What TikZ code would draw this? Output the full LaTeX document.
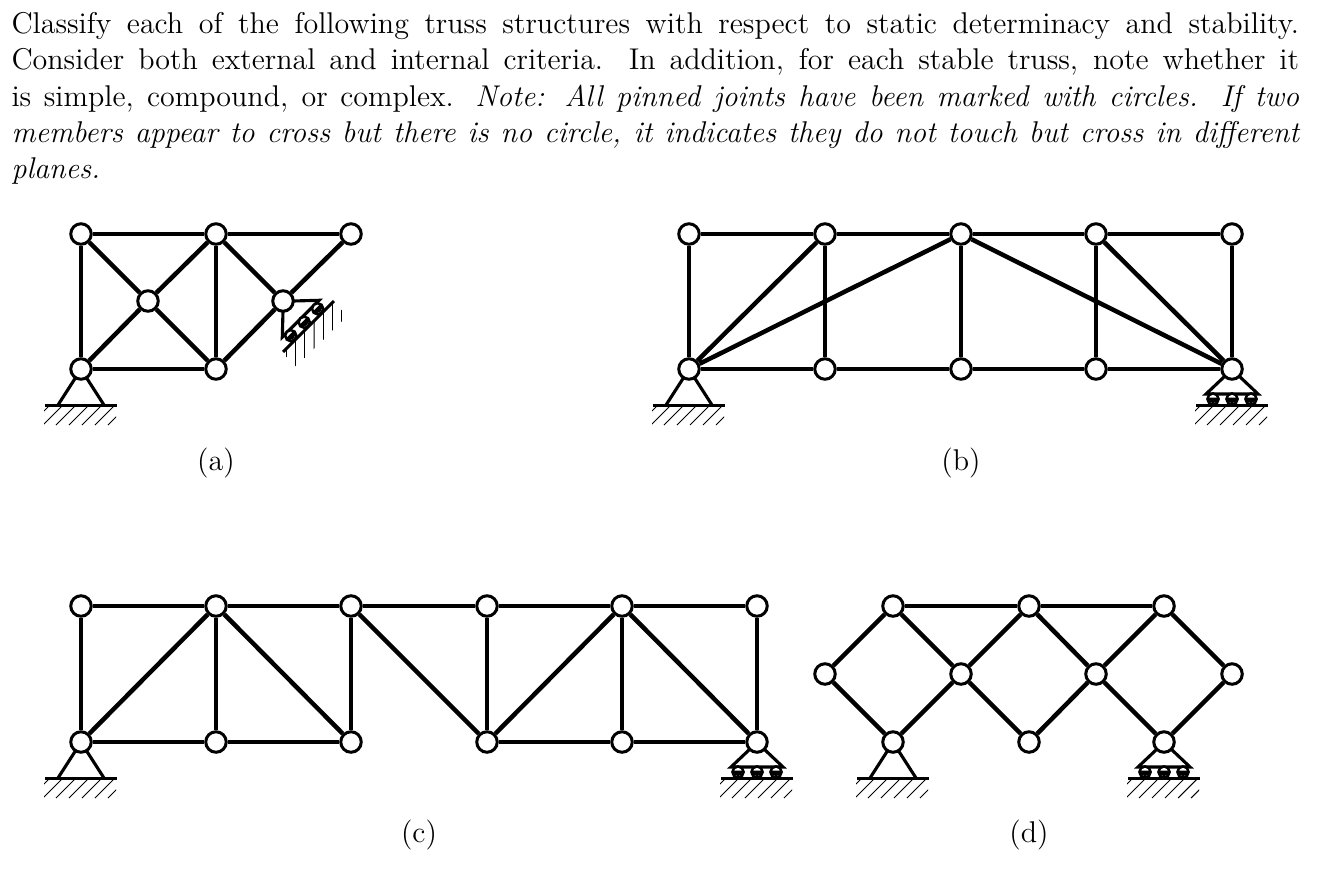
\documentclass[tikz,border=0pt]{standalone}
\usepackage{tikz}
\usetikzlibrary{positioning}
\def\groundhatch{%
  \draw[line width=1.2pt] (-36,36) -- (36,36);
  \begin{scope}
    \clip (-37,36) rectangle (35,56);
    \foreach \hx in {-31,-18,-5,8,21,34,47}
      \draw[hatchLine] (\hx,36) -- ++(-20,20);
  \end{scope}
}
\tikzset{
  hatchLine/.style={line width=0.4pt},
  supportLine/.style={line width=1.25pt},
  pinSupport/.pic={
    \draw[supportLine] (-5,8) -- (-23,36) (5,8) -- (23,36);
    \groundhatch
  },
  rollerSupport/.pic={
    \draw[supportLine] (-7,7) -- (-26,25) -- (26,25) -- (7,7);
    \foreach \rx in {-19,0,19} {
      \draw[line width=1pt, fill=white] (\rx,30) circle (5.6);
      \fill (\rx-5.6,28.5) arc (180:0:5.6) -- cycle;
    }
    \groundhatch
  },
}
\begin{document}
\begin{tikzpicture}[
    x=0.4pt, y=-0.4pt,
    joint/.style={draw, circle, fill=white, line width=1.2pt, minimum size=8.2pt, inner sep=0pt},
    member/.style={line width=1.8pt},
    caption/.style={inner sep=0pt, font=\fontsize{12}{14.5}\selectfont},
  ]
  \useasboundingbox (0,0) rectangle (1324,868);
  \node[inner sep=0pt, anchor=north west, text width=515pt, align=justify, font=\fontsize{12}{14.5}\selectfont] (statement) at (11,12)
    {Classify each of the following truss structures with respect to static determinacy and stability.\linebreak
    Consider both external and internal criteria. In addition, for each stable truss, note whether it\linebreak
    is simple, compound, or complex. \textit{Note: All pinned joints have been marked with circles. If two\linebreak
    members appear to cross but there is no circle, it indicates they do not touch but cross in different\linebreak
    planes.}};

  % truss a
  \node[joint] (a1) at (81,234) {};
  \node[joint] (a2) at (216,234) {};
  \node[joint] (a3) at (351,234) {};
  \node[joint] (a4) at (148,301) {};
  \node[joint] (a5) at (283,301) {};
  \node[joint] (a6) at (81,369) {};
  \node[joint] (a7) at (216,369) {};
  \draw[member] (a1) -- (a2) (a2) -- (a3) (a1) -- (a6) (a6) -- (a7) (a2) -- (a7);
  \draw[member] (a1) -- (a4) (a4) -- (a7) (a6) -- (a4) (a4) -- (a2);
  \draw[member] (a2) -- (a5) (a3) -- (a5) (a5) -- (a7);
  \pic at (a6) {pinSupport};
  \pic[rotate=45] at (a5) {rollerSupport};
  \node[caption] (labelA) at (216,463) {(a)};

  % truss b
  \node[joint] (b1) at (689,234) {};
  \node[joint] (b2) at (825,234) {};
  \node[joint] (b3) at (961,234) {};
  \node[joint] (b4) at (1096,234) {};
  \node[joint] (b5) at (1232,234) {};
  \node[joint] (b6) at (689,369) {};
  \node[joint] (b7) at (825,369) {};
  \node[joint] (b8) at (961,369) {};
  \node[joint] (b9) at (1096,369) {};
  \node[joint] (b10) at (1232,369) {};
  \draw[member] (b1) -- (b2) (b2) -- (b3) (b3) -- (b4) (b4) -- (b5);
  \draw[member] (b6) -- (b7) (b7) -- (b8) (b8) -- (b9) (b9) -- (b10);
  \draw[member] (b1) -- (b6) (b2) -- (b7) (b3) -- (b8) (b4) -- (b9) (b5) -- (b10);
  \draw[member] (b6) -- (b2) (b6) -- (b3) (b3) -- (b10) (b4) -- (b10);
  \pic at (b6) {pinSupport};
  \pic at (b10) {rollerSupport};
  \node[caption] (labelB) at (961,463) {(b)};

  % truss c
  \node[joint] (c1) at (81,606) {};
  \node[joint] (c2) at (216,606) {};
  \node[joint] (c3) at (351,606) {};
  \node[joint] (c4) at (487,606) {};
  \node[joint] (c5) at (622,606) {};
  \node[joint] (c6) at (757,606) {};
  \node[joint] (c7) at (81,742) {};
  \node[joint] (c8) at (216,742) {};
  \node[joint] (c9) at (351,742) {};
  \node[joint] (c10) at (487,742) {};
  \node[joint] (c11) at (622,742) {};
  \node[joint] (c12) at (757,742) {};
  \draw[member] (c1) -- (c2) (c2) -- (c3) (c3) -- (c4) (c4) -- (c5) (c5) -- (c6);
  \draw[member] (c7) -- (c8) (c8) -- (c9) (c10) -- (c11) (c11) -- (c12);
  \draw[member] (c1) -- (c7) (c2) -- (c8) (c3) -- (c9) (c4) -- (c10) (c5) -- (c11) (c6) -- (c12);
  \draw[member] (c7) -- (c2) (c2) -- (c9) (c3) -- (c10) (c10) -- (c5) (c5) -- (c12);
  \pic at (c7) {pinSupport};
  \pic at (c12) {rollerSupport};
  \node[caption] (labelC) at (419,835) {(c)};

  % truss d
  \node[joint] (d1) at (893,606) {};
  \node[joint] (d2) at (1029,606) {};
  \node[joint] (d3) at (1164,606) {};
  \node[joint] (d4) at (825,674) {};
  \node[joint] (d5) at (961,674) {};
  \node[joint] (d6) at (1096,674) {};
  \node[joint] (d7) at (1232,674) {};
  \node[joint] (d8) at (893,742) {};
  \node[joint] (d9) at (1029,742) {};
  \node[joint] (d10) at (1164,742) {};
  \draw[member] (d1) -- (d2) (d2) -- (d3);
  \draw[member] (d4) -- (d1) (d1) -- (d5) (d5) -- (d2) (d2) -- (d6) (d6) -- (d3) (d3) -- (d7);
  \draw[member] (d4) -- (d8) (d8) -- (d5) (d5) -- (d9) (d9) -- (d6) (d6) -- (d10) (d10) -- (d7);
  \pic at (d8) {pinSupport};
  \pic at (d10) {rollerSupport};
  \node[caption] (labelD) at (1029,835) {(d)};
\end{tikzpicture}
\end{document}
